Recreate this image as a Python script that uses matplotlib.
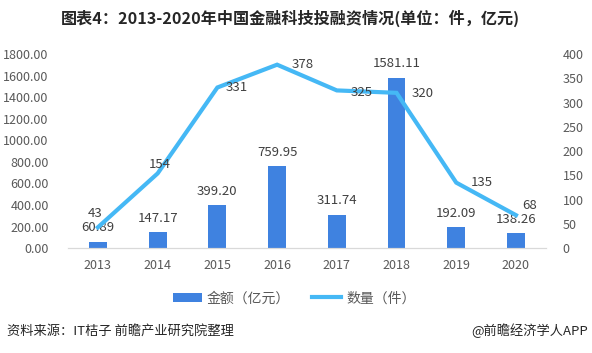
import matplotlib.pyplot as plt
import numpy as np

plt.rcParams['font.family'] = ['Noto Sans CJK SC', 'DejaVu Sans']

years = ['2013', '2014', '2015', '2016', '2017', '2018', '2019', '2020']
amount = [60.89, 147.17, 399.20, 759.95, 311.74, 1581.11, 192.09, 138.26]
count = [43, 154, 331, 378, 325, 320, 135, 68]

bar_color = '#3F82E0'
line_color = '#45B8F5'
txt = '#404040'

fig = plt.figure(figsize=(5.92, 3.53), dpi=100)
ax = fig.add_axes([0.115, 0.297, 0.807, 0.55])
x = np.arange(len(years))

bars = ax.bar(x, amount, width=0.3, color=bar_color, label='金额（亿元）', zorder=2)
ax.set_ylim(0, 1800)
ax.set_yticks(np.arange(0, 1801, 200))
ax.set_yticklabels(['%.2f' % v for v in np.arange(0, 1801, 200)])
ax.set_xlim(-0.5, len(years) - 0.5)
ax.set_xticks(x)
ax.set_xticklabels(years)

ax2 = ax.twinx()
ln, = ax2.plot(x, count, color=line_color, lw=3, label='数量（件）', zorder=3,
               solid_joinstyle='miter')
ax2.set_ylim(0, 400)
ax2.set_yticks(np.arange(0, 401, 50))

for a in (ax, ax2):
    for s in ['top', 'left', 'right']:
        a.spines[s].set_visible(False)
    a.spines['bottom'].set_color('#d9d9d9')
    a.tick_params(length=0, labelsize=9, colors='#595959')
ax.tick_params(axis='y', pad=14)
ax.tick_params(axis='x', pad=8)
ax2.tick_params(axis='y', pad=12)

# bar labels
for i, v in enumerate(amount):
    ax.annotate('%.2f' % v, (x[i], v), xytext=(0, 14), textcoords='offset pixels',
                ha='center', va='center', fontsize=9.5, color=txt, zorder=5)

# line labels (pixel offsets of the text from the point)
offs = [(-3, 14, 'center'), (2, 9, 'center'), (8, 0, 'left'), (15, 0, 'left'),
        (14, -2, 'left'), (15, -1, 'left'), (15, 0, 'left'), (6, 10, 'left')]
for i, v in enumerate(count):
    dx, dy, ha = offs[i]
    ax2.annotate(str(v), (x[i], v), xytext=(dx, dy), textcoords='offset pixels',
                 ha=ha, va='center', fontsize=9.5, color=txt, zorder=5)

fig.legend(handles=[bars, ln], loc='center', bbox_to_anchor=(0.497, 0.155), ncol=2,
           frameon=False, fontsize=10, handlelength=2.1, columnspacing=1.6,
           handletextpad=0.35, labelcolor='#595959')

fig.text(0.49, 0.947, '图表4：2013-2020年中国金融科技投融资情况(单位：件，亿元)',
         ha='center', va='center', fontsize=11.6, fontweight='bold', color='#262626')
fig.text(0.012, 0.062, '资料来源：IT桔子 前瞻产业研究院整理', ha='left', va='center',
         fontsize=9.5, color='#262626')
fig.text(0.993, 0.062, '@前瞻经济学人APP', ha='right', va='center',
         fontsize=9.5, color='#262626')

fig.savefig('out.png', dpi=100)
